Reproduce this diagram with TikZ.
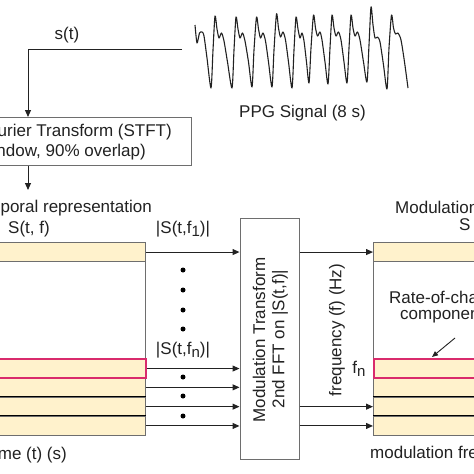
\documentclass[tikz,border=0pt]{standalone}
\usepackage{fontspec}
\setmainfont{Liberation Sans}
\usetikzlibrary{arrows.meta}
\definecolor{stripe}{HTML}{FFF2CC}
\definecolor{hl}{HTML}{D92B6C}
\definecolor{edge}{HTML}{6E6E6E}
\definecolor{ink}{HTML}{222222}
\newcommand{\lowsub}[1]{\raisebox{-0.4ex}{\fontsize{15}{15}\selectfont #1}}
\begin{document}
\begin{tikzpicture}[x=1pt,y=-1pt,
  font=\fontsize{17}{20}\selectfont, text=ink,
  >={Triangle[length=7pt,width=6pt]},
  lbl/.style={inner sep=0pt},
  conn/.style={->, draw=ink, line width=1pt},
  panel/.style={draw=edge, line width=1pt, fill=white, inner sep=0pt, anchor=north west},
  band/.style={draw=edge, fill=stripe, line width=0.8pt, inner sep=0pt, anchor=north west, minimum height=19.3},
  hlband/.style={draw=hl, fill=stripe, line width=1.8pt, inner sep=0pt, anchor=north west, minimum height=19.3},
  blk/.style={draw=edge, line width=1pt, fill=white, inner sep=0pt},
  dot/.style={circle, fill=black, inner sep=0pt, minimum size=5pt}]
\useasboundingbox (0,0) rectangle (474,474);
\clip (0,0) rectangle (474,474);
\fill[white] (0,0) rectangle (474,474);

% PPG signal
\draw[line width=1.1pt, draw=ink, line join=round] plot[smooth, tension=0.45] coordinates {
 (195,25) (197,43) (199.5,33) (202,32) (204,36) (207,58) (211,88)
 (213,50) (215,16) (217,29) (219,38) (221.5,33) (224,41) (227.5,62) (232,88)
 (234,50) (236,17) (238,29) (240,38) (242.5,33) (245,41) (248.5,62) (252,87)
 (254,50) (256.5,17) (258.5,29) (260.5,38) (263,33) (265.5,41) (268.5,62) (272,87)
 (274,50) (276.5,14) (278.5,28) (280.5,37) (283,32) (285.5,40) (288.5,62) (292,88)
 (294,50) (296,17) (298,29) (300,38) (302,33) (304,41) (306.5,62) (309,83)
 (311,48) (313.5,15) (315.5,28) (317.5,36) (320,32) (322,40) (325,62) (328,84)
 (330,48) (332,15) (334,28) (336,36) (338.5,32) (341,40) (344,62) (347,83)
 (349,48) (351,15) (353,28) (355,36) (357.5,32) (360,40) (363.5,62) (367,82)
 (369,45) (371,7) (373,25) (375,38) (377.5,37) (380,42) (383.5,65) (387,89)
 (389,48) (391.5,15) (393.5,28) (395.5,34) (398,33) (401,40) (404.5,62) (408,88)};
\node[lbl, anchor=west] (ppg) at (239,113) {PPG Signal (8 s)};

% input line
\node[lbl] (st) at (67,35) {s(t)};
\coordinate (sigend) at (182,49);
\coordinate (corner) at (28,49);

% STFT box
\node[blk, anchor=north east, minimum width=262, minimum height=48] (stft) at (192,117) {};
\node[lbl, anchor=east] (stft1) at (172,132) {urier Transform (STFT)};
\node[lbl, anchor=east] (stft2) at (146,152) {ndow, 90\% overlap)};
\draw[conn] (sigend) -- (corner) -- (corner |- stft.north);
\coordinate (repr) at (28,190);
\draw[conn] (stft.south -| corner) -- (repr);

\node[lbl, anchor=east] (reprlbl) at (152,208) {poral representation};
\node[lbl] (stf) at (29,229) {S(t, f)};

% left panel
\node[panel, minimum width=155, minimum height=193] (lp) at (-10,242) {};
\node[band, minimum width=155] (lb1) at (-10,242) {};
\node[band, minimum width=155] (lb2) at (-10,377.3) {};
\node[band, minimum width=155] (lb3) at (-10,396.6) {};
\node[band, minimum width=155] (lb4) at (-10,415.9) {};
\draw[black, line width=0.9pt] (lb3.north west) -- (lb3.north east) (lb4.north west) -- (lb4.north east);
\node[hlband, minimum width=155] (lbn) at (-10,358) {};
\node[lbl, anchor=east] (time) at (67,455) {me (t) (s)};

% modulation transform box
\node[blk, minimum width=59, minimum height=241] (mod) at (269.5,338.5) {};
\node[lbl, rotate=90] (modt1) at (259,340) {Modulation Transform};
\node[lbl, rotate=90] (modt2) at (280,339) {2nd FFT on |S(t,f)|};

% left arrows
\draw[conn] (lb1.east) -- (lb1.east -| mod.west);
\draw[conn] (lbn.east) -- (lbn.east -| mod.west);
\draw[conn] (lb2.east) -- (lb2.east -| mod.west);
\draw[conn] (lb3.east) -- (lb3.east -| mod.west);
\draw[conn] (lb4.east) -- (lb4.east -| mod.west);

\node[lbl] (sf1) at (183,229) {|S(t,f\lowsub{1})|};
\node[lbl] (sfn) at (183,350) {|S(t,f\lowsub{n})|};
\foreach \i/\yy in {1/270,2/290,3/310,4/329,5/377,6/396,7/416}
  \node[dot] (d\i) at (183,\yy) {};

% right panel
\node[panel, minimum width=130, minimum height=193] (rp) at (373,242) {};
\node[band, minimum width=130] (rb1) at (373,242) {};
\node[band, minimum width=130] (rb2) at (373,377.3) {};
\node[band, minimum width=130] (rb3) at (373,396.6) {};
\node[band, minimum width=130] (rb4) at (373,415.9) {};
\draw[black, line width=0.9pt] (rb3.north west) -- (rb3.north east) (rb4.north west) -- (rb4.north east);
\node[hlband, minimum width=130] (rbn) at (373,358) {};

\draw[conn] (mod.east |- rb1.west) -- (rb1.west);
\draw[conn] (mod.east |- rb3.west) -- (rb3.west);
\draw[conn] (mod.east |- rb4.west) -- (rb4.west);

\node[lbl, rotate=90] (freq) at (337,330) {frequency (f) (Hz)};
\node[lbl] (fn) at (359,369) {f\lowsub{n}};

\node[lbl, anchor=west] (modspec) at (395,207) {Modulation};
\node[lbl, anchor=west] (sspec) at (459,225) {S};
\node[lbl, anchor=west] (rate1) at (389,297) {Rate-of-cha};
\node[lbl, anchor=west] (rate2) at (400,317) {componen};
\coordinate (rcstart) at (455,338);
\coordinate (rctip) at (432,357);
\draw[->, draw=ink, line width=0.9pt, >={Triangle[length=6pt,width=5pt]}] (rcstart) -- (rctip);
\node[lbl, anchor=west] (modfreq) at (370,452) {modulation fre};
\end{tikzpicture}
\end{document}
